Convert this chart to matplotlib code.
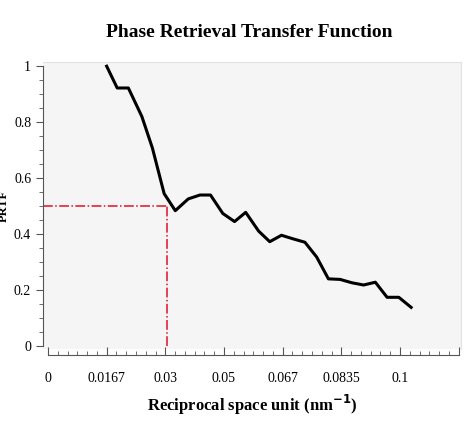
import matplotlib
matplotlib.use("Agg")
import matplotlib.pyplot as plt
from matplotlib.ticker import MultipleLocator, FixedLocator

# x positions in units of major tick spacing (categorical-like axis)
x_pos = [1.0, 1.18, 1.37, 1.60, 1.78, 1.98, 2.17, 2.39, 2.59, 2.77, 2.98, 3.18, 3.37, 3.59, 3.78, 3.98, 4.18, 4.38, 4.58, 4.78, 4.98, 5.18, 5.38, 5.58, 5.78, 5.98, 6.19]
prtf = [1.0, 0.922, 0.922, 0.82, 0.707, 0.544, 0.483, 0.525, 0.539, 0.539, 0.473, 0.444, 0.477, 0.410, 0.372, 0.395, 0.382, 0.370, 0.317, 0.239, 0.237, 0.225, 0.217, 0.227, 0.173, 0.173, 0.137]
tick_labels = ["0", "0.0167", "0.03", "0.05", "0.067", "0.0835", "0.1"]
cutoff_x = 2.03
cutoff_y = 0.5

plt.rcParams['font.family'] = ['Liberation Serif', 'DejaVu Serif']
fig = plt.figure(figsize=(4.74, 4.37), dpi=100)
ax = fig.add_axes([43/474, 1-349/437, 418/474, 287/437])
ax.set_facecolor('#f5f5f6')
ax.plot(x_pos, prtf, color='black', lw=2.2, solid_joinstyle='round')
ax.plot([-0.085, cutoff_x], [cutoff_y, cutoff_y], color='#e0102a', lw=1.1, ls='-.')
ax.plot([cutoff_x, cutoff_x], [0, cutoff_y], color='#e0102a', lw=1.1, ls='-.')
ax.set_xlim(-0.085, 7.04)
ax.set_ylim(-0.012, 1.015)
for s in ['top', 'right']:
    ax.spines[s].set_color('#e2e2e4')
ax.spines['left'].set_bounds(0, 1)
ax.spines['left'].set_color('#555555')
ax.spines['bottom'].set_position(('outward', 4.5))
ax.spines['bottom'].set_bounds(0, 7)
ax.spines['bottom'].set_color('#555555')
ax.xaxis.set_major_locator(FixedLocator(range(7 + 1)))
ax.set_xticklabels(tick_labels + [""])
ax.xaxis.set_minor_locator(MultipleLocator(1/6))
ax.set_yticks([0, 0.2, 0.4, 0.6, 0.8, 1.0])
ax.set_yticklabels(["0", "0.2", "0.4", "0.6", "0.8", "1"])
ax.yaxis.set_minor_locator(MultipleLocator(0.05))
ax.tick_params(axis='x', which='major', direction='in', length=6, pad=12, labelsize=10, color='#555555')
ax.tick_params(axis='x', which='minor', direction='in', length=3, color='#555555')
ax.tick_params(axis='y', which='major', direction='out', length=5, labelsize=10, color='#555555')
ax.tick_params(axis='y', which='minor', direction='out', length=3, color='#555555')
ax.set_xlabel("Reciprocal space unit (nm$^{\\mathbf{-1}}$)", fontsize=12, fontweight='bold', labelpad=6)
ax.set_ylabel("PRTF", fontsize=9, fontweight='bold', labelpad=3)
fig.text(0.525, 0.915, "Phase Retrieval Transfer Function", ha='center', fontsize=14, fontweight='bold')
fig.savefig("out.png", dpi=100, facecolor='white')
